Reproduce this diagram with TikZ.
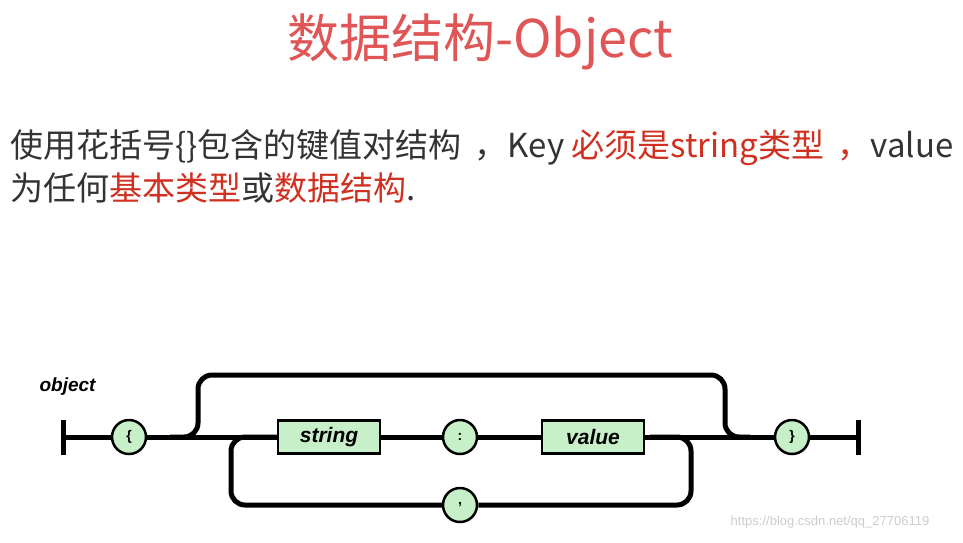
\documentclass[tikz,border=0pt]{standalone}
\usepackage{fontspec}
\setmainfont{Liberation Sans}
\newfontfamily\cjk{Noto Sans CJK SC}
\begin{document}
\begin{tikzpicture}[x=1pt,y=-1pt,
  rail/.style={line width=5pt,rounded corners=14pt},
  tok/.style={circle,draw,line width=2.5pt,fill=tokfill,minimum size=34pt,inner sep=0pt,font=\bfseries\fontsize{14}{14}\selectfont},
  box/.style={draw,line width=2.5pt,fill=tokfill,minimum width=102pt,minimum height=33pt,inner sep=0pt,font=\bfseries\itshape\fontsize{21}{21}\selectfont},
  cjktext/.style={font=\cjk\fontsize{33}{33}\selectfont,anchor=west,inner sep=0pt}]
\definecolor{tred}{HTML}{E05555}
\definecolor{kred}{HTML}{D03020}
\definecolor{txt}{HTML}{333333}
\definecolor{tokfill}{HTML}{C8F0C8}
\useasboundingbox (0,0) rectangle (963,542);
\node[font=\cjk\fontsize{52}{52}\selectfont,text=tred] (title) at (480,42) {数据结构-Object};
\node[cjktext,text=txt] (l1) at (10,148) {使用花括号\{\}包含的键值对结构\hspace{0.4em}，Key \textcolor{kred}{必须是string类型\hspace{0.4em}，}value};
\node[cjktext,text=txt] (l2) at (10,188) {为任何\textcolor{kred}{基本类型}或\textcolor{kred}{数据结构}.};
\node[font=\bfseries\itshape\fontsize{19}{19}\selectfont,anchor=west] (lab) at (36,387) {object};
\coordinate (s) at (63,437);
\coordinate (e) at (858,437);
\node[tok] (ob) at (129,437) {\{};
\node[box] (str) at (329,437) {string};
\node[tok] (col) at (460,437) {:};
\node[box] (val) at (593,437) {value};
\node[tok] (cm) at (460,505) {,};
\node[tok] (cb) at (792,437) {\}};
\draw[line width=5pt] (63,420) -- (63,455);
\draw[line width=5pt] (858,420) -- (858,455);
\draw[rail] (s) -- (ob) -- (str) -- (col) -- (val) -- (cb) -- (e);
\draw[rail] (170,437) -| (198,375) -| (725,437) -- (750,437);
\draw[rail] (278,437) -| (231,505) -- (cm);
\draw[rail] (cm) -- (691,505) |- (650,437);
\node[text=gray!40,font=\fontsize{13}{13}\selectfont] (wm) at (830,522) {https://blog.csdn.net/qq\_27706119};
\end{tikzpicture}
\end{document}
